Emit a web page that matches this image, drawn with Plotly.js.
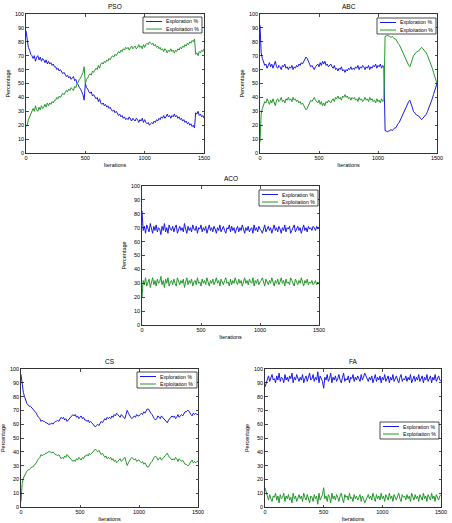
<!DOCTYPE html>
<html><head><meta charset="utf-8">
<script src="https://cdn.plot.ly/plotly-3.0.1.min.js"></script>
<style>html,body{margin:0;padding:0;background:#fff}#chart{width:452px;height:523px}</style>
</head><body><div id="chart"></div>
<script>
const algorithms = ['PSO', 'ABC', 'ACO', 'CS', 'FA'];
const seriesNames = ['Exploration %', 'Exploitation %'];
const xTickVals = [0, 500, 1000, 1500];
const yTickVals = [0, 10, 20, 30, 40, 50, 60, 70, 80, 90, 100];
const iterationStep = 10;

const psoExploration = [
  88,80,76,74,71,70,68,70,66,69,
  70,67,69,66,68,67,65,67,64,66,
  64,65,63,64,62,62,60,61,59,60,
  58,57,58,56,55,56,54,55,53,54,
  55,52,53,50,49,47,46,44,42,38,
  50,47,46,44,43,44,41,42,40,39,
  40,37,39,36,35,36,34,35,33,34,
  32,33,31,30,31,29,30,28,27,28,
  26,27,25,26,24,25,24,26,24,23,
  25,24,23,25,24,22,24,23,25,22,
  24,22,21,22,20,21,22,21,23,22,
  24,23,25,24,26,25,27,25,26,28,
  26,27,25,27,26,28,26,27,25,26,
  24,25,23,24,22,23,21,22,20,21,
  19,20,18,29,28,30,27,28,26,27,
  25];
const psoExploitation = [
  19,20,24,26,29,30,32,30,34,31,
  30,33,31,34,32,33,35,33,36,34,
  36,35,37,36,38,38,40,39,41,40,
  42,43,42,44,45,44,46,45,47,46,
  45,48,47,50,51,53,54,56,58,62,
  50,53,54,56,57,56,59,58,60,61,
  60,63,61,64,65,64,66,65,67,66,
  68,67,69,70,69,71,70,72,73,72,
  74,73,75,74,76,75,76,74,76,77,
  75,76,77,75,76,78,76,77,75,78,
  76,78,79,78,80,79,78,79,77,78,
  76,77,75,76,74,75,73,75,74,72,
  74,73,75,73,74,72,74,73,75,74,
  76,75,77,76,78,77,79,78,80,79,
  81,80,82,71,72,70,73,72,74,73,
  75];

const abcExploration = [
  92,72,68,65,63,64,61,63,65,62,
  64,61,63,66,62,61,63,62,60,63,
  62,64,61,62,60,62,61,63,60,62,
  61,63,62,64,63,65,64,66,67,69,
  68,66,64,62,63,61,60,62,63,64,
  62,65,63,66,64,66,63,64,62,63,
  64,62,61,63,60,61,59,61,60,62,
  59,60,58,60,59,61,60,62,60,61,
  60,62,61,63,60,62,61,63,62,60,
  62,61,63,60,62,61,63,62,64,61,
  63,62,64,61,63,62,16,16,15,16,
  16,17,16,17,18,18,20,21,22,24,
  26,28,30,32,34,36,37,38,36,33,
  30,29,28,27,27,26,25,24,25,26,
  27,28,30,32,34,36,39,42,45,48,
  50];
const abcExploitation = [
  8,28,32,35,37,36,39,37,35,38,
  36,39,37,34,38,39,37,38,40,37,
  38,36,39,38,40,38,39,37,40,38,
  39,37,38,36,37,35,36,34,33,31,
  32,34,36,38,37,39,40,38,37,36,
  38,35,37,34,36,34,37,36,38,37,
  36,38,39,37,40,39,41,39,40,38,
  41,40,42,40,41,39,40,38,40,39,
  40,38,39,37,40,38,39,37,38,40,
  38,39,37,40,38,39,37,38,36,39,
  37,38,36,39,37,38,84,84,85,84,
  84,83,84,83,82,82,80,79,78,76,
  74,72,70,68,66,64,63,62,64,67,
  70,71,72,73,73,74,75,76,75,74,
  73,72,70,68,66,64,61,58,55,52,
  50];

const acoExploration = [
  82,68,71,66,72,69,67,73,70,66,
  71,68,72,67,70,69,65,71,68,73,
  67,70,66,72,69,68,71,67,70,72,
  66,69,71,68,70,67,73,69,66,71,
  68,70,67,72,69,68,71,66,70,69,
  72,67,70,68,71,66,69,72,68,70,
  67,71,69,66,70,68,72,67,69,71,
  68,66,70,69,72,67,71,68,70,66,
  69,71,67,70,68,72,69,66,70,68,
  71,67,69,70,66,72,68,70,67,71,
  69,68,66,70,72,67,69,71,68,70,
  66,69,72,68,70,67,71,69,66,70,
  68,72,67,70,69,71,66,68,70,72,
  67,69,71,68,70,66,69,72,68,70,
  67,71,69,70,68,71,70,68,71,69,
  70];
const acoExploitation = [
  20,32,29,34,28,31,33,27,30,34,
  29,32,28,33,30,31,35,29,32,27,
  33,30,34,28,31,32,29,33,30,28,
  34,31,29,32,30,33,27,31,34,29,
  32,30,33,28,31,32,29,34,30,31,
  28,33,30,32,29,34,31,28,32,30,
  33,29,31,34,30,32,28,33,31,29,
  32,34,30,31,28,33,29,32,30,34,
  31,29,33,30,32,28,31,34,30,32,
  29,33,31,30,34,28,32,30,33,29,
  31,32,34,30,28,33,31,29,32,30,
  34,31,28,32,30,33,29,31,34,30,
  32,28,33,30,31,29,34,32,30,28,
  33,31,29,32,30,34,31,28,32,30,
  33,29,31,30,32,29,30,32,29,31,
  30];

const csExploration = [
  96,88,83,80,77,75,74,73,73,72,
  71,70,69,68,66,65,64,62,63,62,
  62,61,61,60,60,60,61,60,61,62,
  62,63,62,64,65,64,65,63,64,62,
  63,64,65,66,67,66,67,65,66,64,
  65,66,64,65,63,63,62,63,61,62,
  61,60,59,58,59,60,59,61,62,61,
  63,64,63,65,64,65,64,66,65,67,
  66,68,67,66,65,67,66,65,64,67,
  70,68,66,65,64,65,66,65,67,66,
  66,67,68,67,69,68,70,71,71,69,
  68,67,65,64,63,64,66,65,64,66,
  65,64,63,62,61,63,64,65,66,65,
  66,64,65,67,65,66,67,66,68,69,
  69,70,70,68,67,66,68,67,68,67,
  67];
const csExploitation = [
  4,17,21,23,25,26,27,27,28,29,
  29,30,31,32,34,35,36,38,37,38,
  38,39,39,40,40,40,39,40,39,38,
  38,37,38,36,35,36,35,37,36,38,
  37,36,35,34,33,34,33,35,34,36,
  35,34,36,35,37,37,38,37,39,38,
  39,40,41,42,41,40,41,39,38,39,
  37,36,37,35,36,35,36,34,35,33,
  34,32,33,34,35,33,34,35,36,33,
  30,32,34,35,36,35,34,35,33,34,
  34,33,32,33,31,32,30,29,29,31,
  32,33,35,36,37,36,34,35,36,34,
  35,36,37,38,39,37,36,35,34,35,
  34,36,35,33,35,34,33,34,32,31,
  31,30,30,32,33,34,32,33,32,33,
  33];

const faExploration = [
  87,90,92,95,91,94,96,92,93,90,
  95,92,97,91,94,93,90,96,92,94,
  91,95,93,97,90,94,92,96,93,91,
  94,92,96,90,93,95,91,94,97,92,
  93,96,91,94,92,98,90,95,93,91,
  86,94,92,96,91,93,97,90,94,92,
  95,91,93,96,92,90,94,97,91,93,
  92,95,90,94,93,96,91,94,92,95,
  93,91,96,92,94,97,95,93,91,94,
  92,95,90,93,96,91,94,92,95,90,
  94,92,96,91,93,95,90,94,92,96,
  91,93,95,92,90,94,96,91,93,92,
  95,91,94,92,96,90,93,95,91,94,
  92,96,91,93,95,90,94,92,96,91,
  93,95,90,94,92,96,91,93,95,92,
  91];
const faExploitation = [
  14,10,8,5,9,6,4,8,7,10,
  5,8,3,9,6,7,10,4,8,6,
  9,5,7,3,10,6,8,4,7,9,
  6,8,4,10,7,5,9,6,3,8,
  7,4,9,6,8,2,10,5,7,9,
  14,6,8,4,9,7,3,10,6,8,
  5,9,7,4,8,10,6,3,9,7,
  8,5,10,6,7,4,9,6,8,5,
  7,9,4,8,6,3,5,7,9,6,
  8,5,10,7,4,9,6,8,5,10,
  6,8,4,9,7,5,10,6,8,4,
  9,7,5,8,10,6,4,9,7,8,
  5,9,6,8,4,10,7,5,9,6,
  8,4,9,7,5,10,6,8,4,9,
  7,5,10,6,8,4,9,7,5,8,
  9];

// ---------- layout (pixels of the 452x523 picture) ----------
const W = 452, H = 523;
const seriesData = {
  PSO: [psoExploration, psoExploitation],
  ABC: [abcExploration, abcExploitation],
  ACO: [acoExploration, acoExploitation],
  CS:  [csExploration,  csExploitation],
  FA:  [faExploration,  faExploitation]
};
const plotBoxes = {           // left, top, right, bottom
  PSO: [26, 14, 204, 153],
  ABC: [260, 14, 437, 153],
  ACO: [142, 186, 319, 325],
  CS:  [21, 369, 198, 507],
  FA:  [265, 369, 441, 507]
};
const legendBoxes = {
  PSO: [143, 17, 202, 33],
  ABC: [377, 18, 436, 34],
  ACO: [259, 190, 318, 206],
  CS:  [137, 372, 197, 388],
  FA:  [380, 422, 439, 439]
};
const colors = ['#1a1ae6', '#23992a'];
const FONT = 'Liberation Sans, Arial, sans-serif';
const px = x => x / W;
const py = y => 1 - y / H;

const traces = [];
const layout = {
  width: W, height: H,
  margin: {l: 0, r: 0, t: 0, b: 0},
  paper_bgcolor: '#fff', plot_bgcolor: '#fff',
  showlegend: false,
  font: {family: FONT, size: 6, color: '#000'},
  annotations: [], shapes: []
};

algorithms.forEach((name, k) => {
  const sfx = k === 0 ? '' : String(k + 1);
  const [l, t, r, b] = plotBoxes[name];
  seriesData[name].forEach((vals, s) => {
    traces.push({
      type: 'scatter', mode: 'lines', name: seriesNames[s],
      x: vals.map((_, i) => i * iterationStep), y: vals,
      xaxis: 'x' + sfx, yaxis: 'y' + sfx,
      line: {color: colors[s], width: 1}, hoverinfo: 'skip'
    });
  });
  const common = {
    showline: true, linecolor: '#000', linewidth: 0.8, mirror: 'ticks',
    ticks: 'inside', ticklen: 2.5, tickwidth: 0.7, tickcolor: '#000',
    showgrid: false, zeroline: false, fixedrange: true,
    tickfont: {family: FONT, size: 5.5, color: '#000'}
  };
  layout['xaxis' + sfx] = Object.assign({}, common, {
    domain: [px(l), px(r)], anchor: 'y' + sfx, range: [0, 1500],
    tickmode: 'array', tickvals: xTickVals,
    title: {text: 'Iterations', font: {family: FONT, size: 5.5}, standoff: 2}
  });
  layout['yaxis' + sfx] = Object.assign({}, common, {
    domain: [py(b), py(t)], anchor: 'x' + sfx, range: [0, 100],
    tickmode: 'array', tickvals: yTickVals,
    title: {text: 'Percentage', font: {family: FONT, size: 5.5}, standoff: 3}
  });
  layout.annotations.push({
    xref: 'paper', yref: 'paper', x: px((l + r) / 2), y: py(t - 8),
    text: name, showarrow: false, xanchor: 'center', yanchor: 'middle',
    font: {family: FONT, size: 6.5}
  });
  // legend box
  const [lx0, ly0, lx1, ly1] = legendBoxes[name];
  layout.shapes.push({
    type: 'rect', xref: 'paper', yref: 'paper',
    x0: px(lx0), x1: px(lx1), y0: py(ly1), y1: py(ly0),
    line: {color: '#000', width: 0.7}, fillcolor: '#fff', layer: 'above'
  });
  seriesNames.forEach((sn, s) => {
    const yy = ly0 + 4.5 + s * 7.5;
    layout.shapes.push({
      type: 'line', xref: 'paper', yref: 'paper',
      x0: px(lx0 + 3), x1: px(lx0 + 19), y0: py(yy), y1: py(yy),
      line: {color: colors[s], width: 1}, layer: 'above'
    });
    layout.annotations.push({
      xref: 'paper', yref: 'paper', x: px(lx0 + 21), y: py(yy),
      text: sn, showarrow: false, xanchor: 'left', yanchor: 'middle',
      font: {family: FONT, size: 5.2}
    });
  });
});

Plotly.newPlot('chart', traces, layout, {staticPlot: true, displayModeBar: false});
</script>
</body></html>
